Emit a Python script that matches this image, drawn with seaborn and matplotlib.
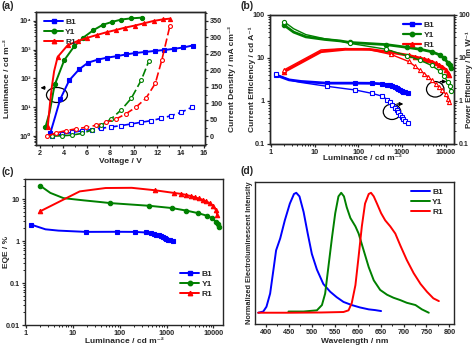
import numpy as np
import matplotlib
matplotlib.use("Agg")
import matplotlib.pyplot as plt
from matplotlib.patches import Ellipse
from matplotlib.lines import Line2D
from matplotlib.ticker import (FormatStrFormatter, MultipleLocator, LogLocator,
                               NullFormatter, FixedLocator, FuncFormatter)
import seaborn as sns

# ---------------- device data ----------------
# B1 (blue emitter)
b1_volt = [2.88, 3.10, 3.30, 3.72, 4.49, 5.34, 6.10, 6.95, 7.74, 8.59, 9.38,
           10.15, 10.94, 11.84, 12.63, 13.45, 14.25, 15.04]
b1_lum = [1.3, 2.6, 4.9, 19, 86, 209, 355, 455, 530, 600, 690, 770, 830, 910,
          980, 1070, 1200, 1400]
b1_ce = [4.0, 3.1, 2.85, 2.6, 2.6, 2.58, 2.5, 2.4, 2.3, 2.2, 2.1, 2.0, 1.9,
         1.8, 1.72, 1.65, 1.58, 1.5]
b1_pe = [4.2, 3.1, 2.7, 2.2, 1.8, 1.5, 1.29, 1.08, 0.93, 0.80, 0.70, 0.62,
         0.55, 0.48, 0.43, 0.385, 0.35, 0.31]
b1_eqe = [2.45, 1.9, 1.77, 1.65, 1.66, 1.65, 1.6, 1.55, 1.5, 1.43, 1.36, 1.3,
          1.23, 1.17, 1.12, 1.07, 1.03, 0.98]
b1_mark = [0, 3, 4, 5, 6, 7, 8, 9, 10, 11, 12, 13, 14, 15, 16, 17]
b1_jv = [3.0, 3.85, 4.7, 5.55, 6.4, 7.25, 8.1, 8.95, 9.8, 10.65, 11.5, 12.35,
         13.2, 14.05, 15.0]
b1_j = [1, 6, 11, 16, 20, 24, 28, 32, 37, 42, 47, 54, 62, 72, 88]

# Y1 (yellow emitter)
y1_volt = [2.45, 2.6, 2.8, 3.0, 3.15, 3.27, 4.06, 4.91, 5.7, 6.55, 7.35, 8.17,
           8.96, 9.8, 10.7]
y1_lum = [2, 3.3, 6.3, 17, 38, 63, 430, 1300, 2650, 4750, 7300, 9300, 11200,
          12300, 13000]
y1_ce = [58, 40, 31, 27, 25, 23, 20.5, 17.7, 15.9, 14, 11.8, 9.8, 7.8, 6.8, 5.8]
y1_pe = [70, 48, 35, 28, 25, 22, 16, 11.3, 8.8, 6.7, 5.0, 3.8, 2.7, 2.2, 1.7]
y1_eqe = [20.8, 14, 10.5, 9.3, 8.5, 8.0, 6.9, 6.1, 5.3, 4.6, 4.0, 3.5, 2.9,
          2.5, 2.15]
y1_mark = [0, 5, 6, 7, 8, 9, 10, 11, 12, 13, 14]
y1_jv = [3.0, 3.85, 4.7, 5.55, 6.4, 7.25, 8.1, 8.95, 9.8, 10.65, 11.3]
y1_j = [0, 1, 3, 8, 18, 33, 53, 80, 115, 170, 228]

# R1 (red emitter)
r1_volt = [2.65, 2.85, 3.0, 3.2, 3.5, 4.35, 5.2, 6.0, 6.84, 7.68, 8.5, 9.3,
           10.1, 10.9, 11.7, 12.55, 13.1]
r1_lum = [2, 14, 50, 180, 560, 1420, 2000, 2570, 3240, 4040, 4860, 5900, 6900,
          8300, 10000, 11400, 12000]
r1_ce = [4.8, 14, 15.9, 15.9, 13.5, 11.5, 10.6, 10.0, 9.4, 8.8, 8.2, 7.5, 6.9,
         6.3, 5.4, 4.5, 4.0]
r1_pe = [5.3, 15.4, 16.6, 15.6, 12.1, 8.3, 6.4, 5.2, 4.3, 3.6, 3.0, 2.5, 2.15,
         1.8, 1.45, 1.13, 0.96]
r1_eqe = [5.1, 15.2, 18.3, 18.5, 16.2, 14.0, 13.3, 12.6, 11.8, 11.0, 10.3,
          9.6, 8.8, 8.0, 6.8, 5.4, 4.2]
r1_mark = [0, 4, 5, 6, 7, 8, 9, 10, 11, 12, 13, 14, 15, 16]
r1_jv = [2.6, 3.4, 4.25, 5.1, 5.95, 6.8, 7.65, 8.5, 9.35, 10.2, 11.05, 11.85,
         12.4, 13.1]
r1_j = [0, 10, 17, 22, 27, 33, 42, 52, 68, 88, 115, 160, 230, 335]

# EL spectra (normalized)
b1_wl = [383, 394, 401, 409, 417, 422, 431, 441, 452, 461, 466, 473, 482, 491,
         500, 511, 525, 540, 554, 569, 587, 605, 624, 638, 651]
b1_el = [0.0, 0.01, 0.05, 0.16, 0.38, 0.52, 0.62, 0.77, 0.91, 0.99, 1.0, 0.97,
         0.84, 0.66, 0.49, 0.36, 0.24, 0.175, 0.13, 0.09, 0.064, 0.044, 0.028,
         0.022, 0.014]
y1_wl = [449, 482, 511, 522, 529, 536, 544, 551, 558, 564, 570, 576, 584, 595,
         602, 613, 624, 635, 649, 664, 678, 693, 707, 726, 740, 755]
y1_el = [0.01, 0.01, 0.02, 0.064, 0.16, 0.38, 0.63, 0.83, 0.97, 1.0, 0.97,
         0.88, 0.79, 0.72, 0.66, 0.52, 0.38, 0.27, 0.19, 0.15, 0.125, 0.105,
         0.083, 0.064, 0.028, 0.0]
r1_wl = [383, 450, 520, 569, 580, 587, 595, 602, 609, 616, 624, 629, 635, 642,
         651, 660, 671, 682, 693, 707, 722, 737, 751, 765, 777]
r1_el = [0.0, 0.0, 0.002, 0.006, 0.02, 0.08, 0.23, 0.47, 0.72, 0.91, 0.99,
         1.0, 0.97, 0.91, 0.83, 0.77, 0.72, 0.66, 0.56, 0.44, 0.33, 0.24,
         0.175, 0.12, 0.097]

names = ["B1", "Y1", "R1"]
colors = ["#0000FF", "#008000", "#FF0000"]
markers = ["s", "o", "^"]

# ---------------- style ----------------
sns.set_style("ticks")
plt.rcParams["font.family"] = ["Liberation Sans", "DejaVu Sans"]
plt.rcParams["font.weight"] = "bold"
plt.rcParams["axes.labelweight"] = "bold"
plt.rcParams["axes.linewidth"] = 1.0
plt.rcParams["xtick.direction"] = "out"
plt.rcParams["ytick.direction"] = "out"
plt.rcParams["xtick.major.size"] = 2.5
plt.rcParams["ytick.major.size"] = 2.5
plt.rcParams["xtick.minor.size"] = 1.4
plt.rcParams["ytick.minor.size"] = 1.4
plt.rcParams["xtick.major.width"] = 0.9
plt.rcParams["ytick.major.width"] = 0.9
plt.rcParams["xtick.minor.width"] = 0.7
plt.rcParams["ytick.minor.width"] = 0.7
plt.rcParams["xtick.major.pad"] = 1.0
plt.rcParams["ytick.major.pad"] = 1.2

TICK = 5.2
LAB = 6.0

fig = plt.figure(figsize=(4.74, 3.47), dpi=100)


def curve(ax, x, y, color, marker, mark, ls="-", lw=1.4, hollow=False, ms=3.0):
    sns.lineplot(x=np.asarray(x, float), y=np.asarray(y, float), ax=ax,
                 color=color, linestyle=ls, linewidth=lw, marker=marker,
                 markersize=ms, markevery=mark,
                 markerfacecolor="white" if hollow else color,
                 markeredgecolor=color, markeredgewidth=0.8,
                 estimator=None, sort=False)


def legend(ax, loc, bbox, with_markers=True, lw=1.4):
    handles = []
    for n, c, m in zip(names, colors, markers):
        if with_markers:
            handles.append(Line2D([], [], color=c, lw=lw, marker=m, ms=3.2,
                                  markerfacecolor=c, markeredgecolor=c))
        else:
            handles.append(Line2D([], [], color=c, lw=lw))
    ax.legend(handles, names, loc=loc, bbox_to_anchor=bbox, frameon=False,
              prop={"size": LAB, "weight": "bold"}, handlelength=2.2,
              handletextpad=0.3, labelspacing=0.25, borderaxespad=0.2)


def style_ticks(ax):
    ax.tick_params(labelsize=TICK)
    for lab in ax.get_xticklabels() + ax.get_yticklabels():
        lab.set_fontweight("bold")


def place_labels(ax, ax_right, fig_x_left, fig_x_right, fig_y_xlabel, box):
    # box: (left, right, top, bottom) of the axes in figure pixels
    left, right, top, bottom = box
    w, h = right - left, bottom - top
    ax.xaxis.label.set_va("center")
    ax.xaxis.set_label_coords(0.5, (bottom - fig_y_xlabel) / h)
    ax.yaxis.label.set_va("center")
    ax.yaxis.set_label_coords((fig_x_left - left) / w, 0.5)
    if ax_right is not None:
        ax_right.yaxis.label.set_va("center")
        ax_right.yaxis.set_label_coords((fig_x_right - left) / w, 0.5)


sup = {0: "\u2070", 1: "\u00b9", 2: "\u00b2", 3: "\u00b3", 4: "\u2074"}

# ---------------- (a) J-V-L ----------------
box_a = (36, 205, 12, 145)
axa = fig.add_axes([box_a[0] / 474, 1 - box_a[3] / 347,
                    (box_a[1] - box_a[0]) / 474, (box_a[3] - box_a[2]) / 347])
axa.set_yscale("log")
axa2 = axa.twinx()
lum_sets = [(b1_volt, b1_lum, b1_mark), (y1_volt, y1_lum, y1_mark),
            (r1_volt, r1_lum, r1_mark)]
j_sets = [(b1_jv, b1_j), (y1_jv, y1_j), (r1_jv, r1_j)]
for (v, l, mk), (jv, j), c, m in zip(lum_sets, j_sets, colors, markers):
    curve(axa, v, l, c, m, mk, lw=1.4)
    curve(axa2, jv, j, c, m if m != "^" else "o", None, ls=(0, (5, 2)),
          lw=1.2, hollow=True, ms=2.8)
axa.set_xlim(1.65, 16.1)
axa.set_ylim(10 ** -0.31, 10 ** 4.31)
axa2.set_ylim(-27, 377)
axa.xaxis.set_major_locator(MultipleLocator(2))
axa.xaxis.set_minor_locator(MultipleLocator(1))
axa.yaxis.set_major_locator(FixedLocator([1, 10, 100, 1000, 10000]))
axa.yaxis.set_major_formatter(
    FuncFormatter(lambda v, p: "10" + sup.get(int(round(np.log10(v))), "")))
axa.yaxis.set_minor_locator(LogLocator(base=10, subs=np.arange(2, 10)))
axa.yaxis.set_minor_formatter(NullFormatter())
axa2.yaxis.set_major_locator(MultipleLocator(50))
axa2.yaxis.set_minor_locator(MultipleLocator(25))
axa.set_xlabel("Voltage / V", fontsize=LAB)
axa.set_ylabel("Luminance / cd m\u207b\u00b2", fontsize=LAB)
axa2.set_ylabel("Current Density / mA cm\u207b\u00b2", fontsize=LAB)
place_labels(axa, axa2, 8, 232, 161.5, box_a)
style_ticks(axa)
style_ticks(axa2)
legend(axa, "upper left", (0.02, 0.99))
axa.add_patch(Ellipse((0.124, 0.376), 0.124, 0.113, transform=axa.transAxes,
                      fill=False, lw=0.9, color="black"))
axa.annotate("", xy=(0.01, 0.43), xytext=(0.07, 0.43), xycoords="axes fraction",
             arrowprops=dict(arrowstyle="-|>", color="black", lw=0.9,
                             mutation_scale=5))

# ---------------- (b) CE / PE ----------------
box_b = (270, 454, 15, 144)
axb = fig.add_axes([box_b[0] / 474, 1 - box_b[3] / 347,
                    (box_b[1] - box_b[0]) / 474, (box_b[3] - box_b[2]) / 347])
axb.set_xscale("log")
axb.set_yscale("log")
axb2 = axb.twinx()
axb2.set_yscale("log")
eff_sets = [(b1_lum, b1_ce, b1_pe, b1_eqe, b1_mark),
            (y1_lum, y1_ce, y1_pe, y1_eqe, y1_mark),
            (r1_lum, r1_ce, r1_pe, r1_eqe, r1_mark)]
for (l, ce, pe, eqe, mk), c, m in zip(eff_sets, colors, markers):
    curve(axb2, l, pe, c, m, mk, lw=1.0, hollow=True, ms=3.0)
    curve(axb, l, ce, c, m, mk, lw=2.0, ms=3.2)
for a in (axb, axb2):
    a.set_xlim(0.95, 15500)
    a.set_ylim(0.1, 100)
    a.yaxis.set_major_locator(FixedLocator([0.1, 1, 10, 100]))
    a.yaxis.set_major_formatter(FormatStrFormatter("%g"))
    a.yaxis.set_minor_locator(LogLocator(base=10, subs=np.arange(2, 10)))
    a.yaxis.set_minor_formatter(NullFormatter())
axb.xaxis.set_major_locator(FixedLocator([1, 10, 100, 1000, 10000]))
axb.xaxis.set_major_formatter(FormatStrFormatter("%g"))
axb.xaxis.set_minor_locator(LogLocator(base=10, subs=np.arange(2, 10)))
axb.xaxis.set_minor_formatter(NullFormatter())
axb.set_xlabel("Luminance / cd m\u207b\u00b2", fontsize=LAB)
axb.set_ylabel("Current Efficiency / cd A\u207b\u00b9", fontsize=LAB)
axb2.set_ylabel("Power Efficiency / lm W\u207b\u00b9", fontsize=5.8)
place_labels(axb, axb2, 252, 469, 158.5, box_b)
style_ticks(axb)
style_ticks(axb2)
axb2.tick_params(axis="y", labelsize=5.0, pad=0.8)
legend(axb2, "upper right", (0.92, 0.99), lw=1.6)
axb.add_patch(Ellipse((0.663, 0.25), 0.095, 0.12, transform=axb.transAxes,
                      fill=False, lw=0.9, color="black"))
axb.annotate("", xy=(0.74, 0.31), xytext=(0.675, 0.31), xycoords="axes fraction",
             arrowprops=dict(arrowstyle="-|>", color="black", lw=0.9,
                             mutation_scale=5))
axb.add_patch(Ellipse((0.898, 0.424), 0.095, 0.12, transform=axb.transAxes,
                      fill=False, lw=0.9, color="black"))
axb.annotate("", xy=(0.975, 0.484), xytext=(0.91, 0.484),
             xycoords="axes fraction",
             arrowprops=dict(arrowstyle="-|>", color="black", lw=0.9,
                             mutation_scale=5))

# ---------------- (c) EQE ----------------
box_c = (25, 223, 179, 325)
axc = fig.add_axes([box_c[0] / 474, 1 - box_c[3] / 347,
                    (box_c[1] - box_c[0]) / 474, (box_c[3] - box_c[2]) / 347])
axc.set_xscale("log")
axc.set_yscale("log")
for (l, ce, pe, eqe, mk), c, m in zip(eff_sets, colors, markers):
    curve(axc, l, eqe, c, m, mk, lw=1.4, ms=3.2)
axc.set_xlim(0.95, 16000)
axc.set_ylim(0.01, 30)
axc.xaxis.set_major_locator(FixedLocator([1, 10, 100, 1000, 10000]))
axc.xaxis.set_major_formatter(FormatStrFormatter("%g"))
axc.xaxis.set_minor_locator(LogLocator(base=10, subs=np.arange(2, 10)))
axc.xaxis.set_minor_formatter(NullFormatter())
axc.yaxis.set_major_locator(FixedLocator([0.01, 0.1, 1, 10]))
axc.yaxis.set_major_formatter(FormatStrFormatter("%g"))
axc.yaxis.set_minor_locator(LogLocator(base=10, subs=np.arange(2, 10)))
axc.yaxis.set_minor_formatter(NullFormatter())
axc.set_xlabel("Luminance / cd m\u207b\u00b2", fontsize=LAB)
axc.set_ylabel("EQE / %", fontsize=LAB)
place_labels(axc, None, 6.5, None, 341.5, box_c)
style_ticks(axc)
legend(axc, "lower right", (0.97, 0.15))

# ---------------- (d) EL spectra ----------------
box_d = (255, 454, 182, 324)
axd = fig.add_axes([box_d[0] / 474, 1 - box_d[3] / 347,
                    (box_d[1] - box_d[0]) / 474, (box_d[3] - box_d[2]) / 347])
for wl, el, c in zip([b1_wl, y1_wl, r1_wl], [b1_el, y1_el, r1_el], colors):
    curve(axd, wl, el, c, None, None, lw=1.4)
axd.set_xlim(376, 810)
axd.set_ylim(-0.094, 1.09)
axd.xaxis.set_major_locator(MultipleLocator(50))
axd.xaxis.set_minor_locator(MultipleLocator(25))
axd.set_yticks([])
axd.set_xlabel("Wavelength / nm", fontsize=LAB)
axd.set_ylabel("Normalized Electroluminescent Intensity", fontsize=5.3)
place_labels(axd, None, 249.5, None, 341.5, box_d)
style_ticks(axd)
legend(axd, "upper right", (0.97, 0.99), with_markers=False)

# panel letters
for txt, x, y in [("(a)", 2, 1), ("(b)", 240, 1), ("(c)", 2, 167),
                  ("(d)", 240, 166)]:
    fig.text(x / 474, 1 - y / 347, txt, fontsize=7.5, fontweight="bold",
             ha="left", va="top")

fig.savefig("out.png", dpi=100)
